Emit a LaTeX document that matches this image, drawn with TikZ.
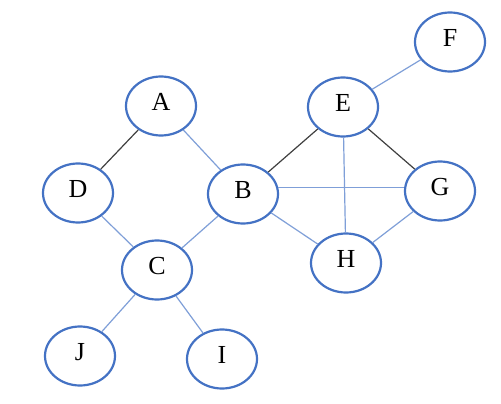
\documentclass[tikz,border=0pt]{standalone}
\usepackage{fontspec}
\setmainfont{Liberation Serif}
\usetikzlibrary{shapes.geometric}
\definecolor{nodeblue}{HTML}{4472C4}
\definecolor{edgeblue}{HTML}{7F9FD8}
\definecolor{edgedark}{HTML}{404040}
\begin{document}
\begin{tikzpicture}[x=1pt,y=-1pt,
  vert/.style={ellipse,draw=nodeblue,line width=2.2pt,minimum width=70pt,minimum height=59pt,inner sep=0pt,
    font=\fontsize{26}{30}\selectfont,text depth=9pt},
  lite/.style={draw=edgeblue,line width=1.2pt},
  dark/.style={draw=edgedark,line width=1.2pt}]
\useasboundingbox[fill=white] (0,0) rectangle (501,404);
\node[vert] (A) at (161,106) {A};
\node[vert] (E) at (343,107) {E};
\node[vert] (F) at (450,42) {F};
\node[vert] (D) at (78,193) {D};
\node[vert] (B) at (243,194) {B};
\node[vert] (G) at (440,191) {G};
\node[vert] (C) at (157,270) {C};
\node[vert] (H) at (346,263) {H};
\node[vert] (J) at (80,356) {J};
\node[vert] (I) at (222,359) {I};
\draw[dark] (A) -- (D);
\draw[dark] (E) -- (B);
\draw[dark] (E) -- (G);
\draw[lite] (A) -- (B);
\draw[lite] (D) -- (C);
\draw[lite] (B) -- (C);
\draw[lite] (B.10) -- (B.10 -| G.west);
\draw[lite] (B) -- (H);
\draw[lite] (E) -- (H);
\draw[lite] (E) -- (F);
\draw[lite] (G) -- (H);
\draw[lite] (C) -- (J);
\draw[lite] (C) -- (I);
\end{tikzpicture}
\end{document}
